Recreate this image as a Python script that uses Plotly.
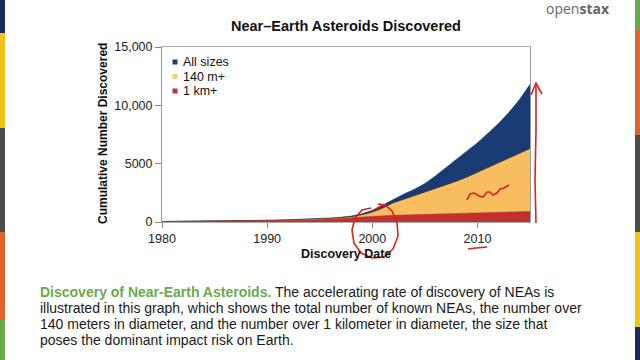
import plotly.graph_objects as go

years = list(range(1980, 2016))
all_sizes = [45, 50, 56, 62, 70, 80, 90, 100, 112, 125, 140, 165, 190, 215, 245, 290,
             340, 410, 510, 700, 1000, 1450, 1950, 2400, 2800, 3300, 3950, 4650, 5350,
             6050, 6800, 7600, 8450, 9400, 10500, 11800]
m140 = [40, 45, 50, 55, 62, 70, 80, 90, 100, 115, 130, 150, 175, 200, 230, 270,
        320, 380, 460, 620, 850, 1200, 1650, 1950, 2250, 2550, 2850, 3150, 3500,
        3850, 4250, 4650, 5050, 5450, 5850, 6300]
km1 = [30, 35, 40, 45, 52, 60, 70, 80, 90, 100, 110, 125, 140, 160, 180, 210,
       250, 300, 370, 440, 490, 530, 570, 600, 630, 660, 700, 730, 760, 785,
       810, 830, 850, 865, 880, 900]

series_names = ["All sizes", "140 m+", "1 km+"]
series_colors = ["#173b72", "#f7bd5e", "#c1312f"]
legend_colors = ["#173b72", "#f3d07a", "#c1312f"]

xtick_vals = [1980, 1990, 2000, 2010]
xtick_text = ["1980", "1990", "2000", "2010"]
ytick_vals = [0, 5000, 10000, 15000]
ytick_text = ["0", "5000", "10,000", "15,000"]

caption_lines = [
    "<span style='color:#6aaa50'><b>Discovery of Near-Earth Asteroids.</b></span> The accelerating rate of discovery of NEAs is",
    "illustrated in this graph, which shows the total number of known NEAs, the number over",
    "140 meters in diameter, and the number over 1 kilometer in diameter, the size that",
    "poses the dominant impact risk on Earth.",
]

FONT = "Liberation Sans, Arial, sans-serif"
L, R, T, B = 162, 530, 47, 222
W, H = 640, 360


def px(x):
    return (x - L) / (R - L)


def py(y):
    return (B - y) / (B - T)


fig = go.Figure()
line_cols = ["#173b72", "#3b3a2c", "#c1312f"]
line_w = [0.5, 0.8, 0.5]
for name, ys, c, lc, lw in zip(series_names, [all_sizes, m140, km1], series_colors, line_cols, line_w):
    fig.add_trace(go.Scatter(x=years, y=ys, name=name, mode="lines",
                             fill="tozeroy", fillcolor=c, showlegend=False,
                             line=dict(color=lc, width=lw)))


def text_ann(text, x, y, size, color="#111", xanchor="center", angle=0, family=FONT):
    return dict(text=text, x=px(x), y=py(y), xref="paper", yref="paper",
                xanchor=xanchor, yanchor="middle", showarrow=False, textangle=angle,
                font=dict(size=size, color=color, family=family))


annotations = [
    text_ann("<b>Near–Earth Asteroids Discovered</b>", 346, 26, 14.5),
    text_ann("<b>Cumulative Number Discovered</b>", 103, 134, 12, angle=-90),
    text_ann("<b>Discovery Date</b>", 346, 254, 12.5),
    text_ann("open<b>stax</b>", 612, 8, 14, color="#666", xanchor="right",
             family="Open Sans, sans-serif"),
]
for i, line in enumerate(caption_lines):
    annotations.append(text_ann(line, 38, 292 + 16 * i, 14, color="#1a1a1a", xanchor="left"))

shapes = []
# legend (custom, small squares as in the reference)
for i, (name, c) in enumerate(zip(series_names, legend_colors)):
    yc = 62 + 14.5 * i
    shapes.append(dict(type="rect", xref="paper", yref="paper", x0=px(172.5), x1=px(177.5),
                       y0=py(yc - 2.5), y1=py(yc + 2.5), fillcolor=c, line=dict(width=0)))
    annotations.append(text_ann(name, 180.5, yc, 12.5, color="#111", xanchor="left"))

left_stripes = [(0, 33, "#1b2a5c"), (33, 128, "#f0c419"), (128, 232, "#4b4b4d"),
                (232, 320, "#e0622c"), (320, 360, "#6aa84f")]
right_stripes = [(0, 30, "#6aa84f"), (30, 135, "#e0622c"), (135, 232, "#4b4b4d"),
                 (232, 327, "#f0c419"), (327, 360, "#1b2a5c")]
for y0, y1, c in left_stripes:
    shapes.append(dict(type="rect", xref="paper", yref="paper", x0=px(0), x1=px(5),
                       y0=py(y0), y1=py(y1), fillcolor=c, line=dict(width=0), layer="above"))
for y0, y1, c in right_stripes:
    shapes.append(dict(type="rect", xref="paper", yref="paper", x0=px(635), x1=px(640),
                       y0=py(y0), y1=py(y1), fillcolor=c, line=dict(width=0), layer="above"))


def path(points):
    s = "M {:.4f},{:.4f}".format(px(points[0][0]), py(points[0][1]))
    for (x, y) in points[1:]:
        s += " L {:.4f},{:.4f}".format(px(x), py(y))
    return s


ink = dict(color="#e0201c", width=1.6)
ink_strokes = [
    # circle around 2000
    [(371, 208), (362, 210), (355, 218), (352, 230), (354, 243), (361, 253),
     (372, 258), (384, 257), (393, 249), (398, 236), (397, 222), (392, 211),
     (385, 205), (378, 204)],
    [(376, 209), (381, 206), (386, 205)],
    # arrow at the right
    [(536, 223), (535, 180), (536, 130), (536, 84)],
    [(531, 95), (536, 83), (542, 94)],
    # squiggle
    [(467, 200), (470, 194), (474, 193), (479, 196), (483, 197), (487, 192), (490, 192),
     (493, 195), (497, 193), (500, 189), (504, 188), (509, 185)],
    # underline under 2010
    [(468, 249), (476, 248), (487, 247)],
]
for pts in ink_strokes:
    shapes.append(dict(type="path", xref="paper", yref="paper", path=path(pts), line=ink))

fig.update_layout(
    width=W, height=H,
    margin=dict(l=L, r=W - R, t=T, b=H - B),
    paper_bgcolor="white", plot_bgcolor="white",
    font=dict(family=FONT, size=12, color="#222"),
    showlegend=False,
    xaxis=dict(range=[1980, 2015], tickvals=xtick_vals, ticktext=xtick_text,
               showgrid=False, zeroline=False, showline=True, linecolor="#aaa",
               mirror=True, ticks="outside", ticklen=5, tickcolor="#888",
               tickfont=dict(size=12.5, color="#222")),
    yaxis=dict(range=[0, 15000], tickvals=ytick_vals, ticktext=ytick_text,
               showgrid=False, zeroline=False, showline=True, linecolor="#999",
               mirror=True, ticks="outside", ticklen=6, tickcolor="#888",
               tickfont=dict(size=12.5, color="#222")),
    annotations=annotations,
    shapes=shapes,
)

fig.write_html("out.html", config={"displayModeBar": False},
               post_script="document.body.style.margin='0';")
